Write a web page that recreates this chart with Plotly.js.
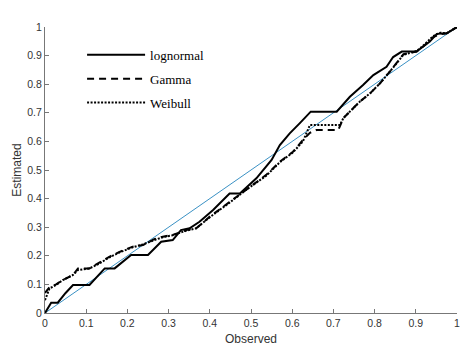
<!DOCTYPE html>
<html>
<head>
<meta charset="utf-8">
<script src="https://cdn.plot.ly/plotly-3.0.1.min.js"></script>
<style>html,body{margin:0;padding:0;background:#fff;}#chart{width:474px;height:353px;}</style>
</head>
<body>
<div id="chart"></div>
<script>
var refX = [0, 1];
var refY = [0, 1];

var lognormalX = [0, 0.015, 0.031, 0.05, 0.068, 0.108, 0.145, 0.169, 0.209, 0.25, 0.282, 0.31, 0.33, 0.351, 0.375, 0.408, 0.448, 0.473, 0.513, 0.55, 0.57, 0.594, 0.618, 0.645, 0.708, 0.74, 0.772, 0.797, 0.829, 0.845, 0.866, 0.902, 0.934, 0.951, 0.975, 1];
var lognormalY = [0, 0.036, 0.036, 0.07, 0.098, 0.098, 0.156, 0.156, 0.203, 0.203, 0.249, 0.255, 0.29, 0.296, 0.319, 0.36, 0.418, 0.418, 0.471, 0.535, 0.587, 0.628, 0.663, 0.704, 0.704, 0.756, 0.797, 0.832, 0.861, 0.895, 0.914, 0.914, 0.949, 0.976, 0.978, 1];

var gammaX = [0, 0.011, 0.027, 0.043, 0.068, 0.08, 0.108, 0.128, 0.157, 0.181, 0.213, 0.238, 0.265, 0.286, 0.31, 0.343, 0.367, 0.4, 0.448, 0.497, 0.537, 0.57, 0.602, 0.626, 0.643, 0.659, 0.712, 0.724, 0.744, 0.764, 0.789, 0.813, 0.837, 0.85, 0.87, 0.902, 0.922, 0.942, 0.959, 0.975, 1];
var gammaY = [0.07, 0.09, 0.1, 0.115, 0.133, 0.156, 0.156, 0.174, 0.197, 0.214, 0.232, 0.238, 0.258, 0.267, 0.273, 0.29, 0.296, 0.337, 0.389, 0.442, 0.483, 0.529, 0.564, 0.605, 0.63, 0.64, 0.64, 0.681, 0.71, 0.739, 0.768, 0.803, 0.844, 0.867, 0.905, 0.914, 0.937, 0.965, 0.975, 0.978, 1];

var weibullX = [0, 0.011, 0.027, 0.043, 0.068, 0.08, 0.108, 0.128, 0.157, 0.181, 0.213, 0.238, 0.265, 0.286, 0.31, 0.343, 0.367, 0.4, 0.448, 0.497, 0.537, 0.57, 0.602, 0.626, 0.643, 0.716, 0.724, 0.744, 0.764, 0.789, 0.813, 0.837, 0.85, 0.87, 0.902, 0.922, 0.942, 0.959, 0.975, 1];
var weibullY = [0.045, 0.086, 0.098, 0.115, 0.133, 0.15, 0.156, 0.17, 0.195, 0.212, 0.23, 0.24, 0.255, 0.265, 0.272, 0.288, 0.296, 0.335, 0.386, 0.44, 0.48, 0.527, 0.562, 0.6, 0.657, 0.657, 0.681, 0.71, 0.739, 0.768, 0.803, 0.844, 0.867, 0.903, 0.916, 0.94, 0.968, 0.98, 0.978, 1];

var tickVals = [0, 0.1, 0.2, 0.3, 0.4, 0.5, 0.6, 0.7, 0.8, 0.9, 1];
var tickText = ['0', '0.1', '0.2', '0.3', '0.4', '0.5', '0.6', '0.7', '0.8', '0.9', '1'];

var traces = [
  {x: refX, y: refY, mode: 'lines', showlegend: false, hoverinfo: 'skip',
   line: {color: 'rgb(58,145,196)', width: 1}},
  {x: lognormalX, y: lognormalY, mode: 'lines', name: 'lognormal', legendgroup: 'a',
   line: {color: '#000', width: 2, dash: 'solid'}},
  {x: gammaX, y: gammaY, mode: 'lines', name: 'Gamma', legendgroup: 'b',
   line: {color: '#000', width: 2, dash: '7px,5px'}},
  {x: weibullX, y: weibullY, mode: 'lines', name: 'Weibull', legendgroup: 'c',
   line: {color: '#000', width: 2, dash: '2px,1.5px'}}
];

var axisCommon = {
  range: [0, 1], tickvals: tickVals, ticktext: tickText,
  ticks: 'inside', ticklen: 4, tickcolor: '#777', tickwidth: 1,
  showline: true, linecolor: '#777', linewidth: 1,
  showgrid: false, zeroline: false, mirror: false,
  tickfont: {family: 'Liberation Sans, Arial, sans-serif', size: 10.5, color: '#333'}
};

var layout = {
  width: 474, height: 353,
  margin: {l: 45, r: 17, t: 27, b: 40},
  paper_bgcolor: '#fff', plot_bgcolor: '#fff',
  showlegend: true,
  legend: {x: 0.09, y: 0.955, xanchor: 'left', yanchor: 'top',
    bgcolor: 'rgba(0,0,0,0)', borderwidth: 0, itemwidth: 58,
    tracegroupgap: 4, traceorder: 'grouped',
    font: {family: 'Liberation Serif, Times New Roman, serif', size: 13, color: '#000'}},
  xaxis: Object.assign({}, axisCommon, {
    title: {text: 'Observed', standoff: 7, font: {family: 'Liberation Sans, Arial, sans-serif', size: 12, color: '#333'}}
  }),
  yaxis: Object.assign({}, axisCommon, {
    title: {text: 'Estimated', standoff: 3, font: {family: 'Liberation Sans, Arial, sans-serif', size: 12, color: '#333'}}
  })
};

Plotly.newPlot('chart', traces, layout, {staticPlot: true, displayModeBar: false});
</script>
</body>
</html>
